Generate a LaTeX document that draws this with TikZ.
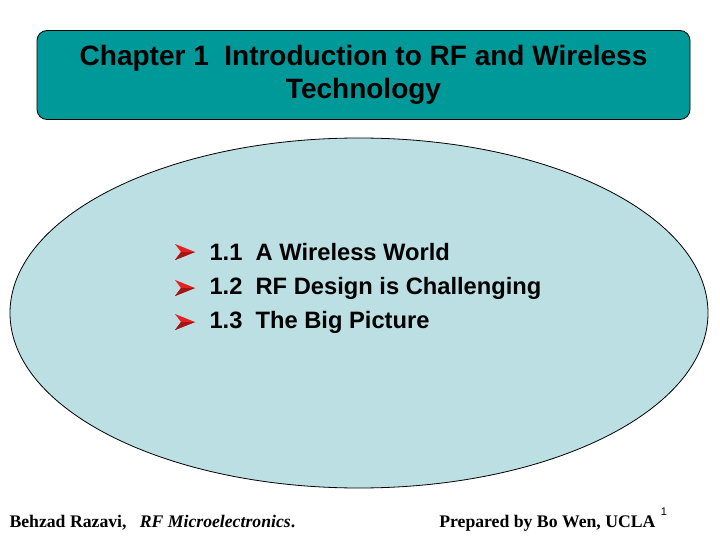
\documentclass[tikz,border=0pt]{standalone}
\usepackage{fontspec}
\usetikzlibrary{shapes.geometric}
\setmainfont{Liberation Sans}
\newfontfamily\tms{Liberation Serif}
\begin{document}
\begin{tikzpicture}[x=1pt,y=-1pt,
  bul/.style={font=\bfseries\fontsize{23.7}{28}\selectfont,anchor=west},
  foot/.style={font=\tms\bfseries\fontsize{17.7}{20}\selectfont,anchor=west}]
\definecolor{teal1}{HTML}{009999}
\definecolor{ell}{HTML}{BBDFE2}
\definecolor{arr}{HTML}{E82020}
\useasboundingbox (0,0) rectangle (720,540);
\fill[white] (0,0) rectangle (720,540);
\node[draw=black,fill=teal1,rounded corners=10pt,minimum width=653pt,minimum height=89pt,line width=0.8pt,align=center,
  font=\bfseries\fontsize{28}{33}\selectfont] (title) at (363.5,75) {Chapter 1\ \ Introduction to RF and Wireless\\Technology};
\node[draw=black,fill=ell,ellipse,minimum width=698pt,minimum height=350pt,inner sep=0pt,line width=0.8pt] (e) at (359,313) {};
\foreach \y/\t [count=\i] in {252/{1.1\ \ A Wireless World},288/{1.2\ \ RF Design is Challenging},322/{1.3\ \ The Big Picture}}{
  \fill[arr] (175,\y-8) -- (195,\y) -- (175,\y+8) -- (181,\y) -- cycle;
  \fill[arr!70!black] (175,\y+8) -- (195,\y) -- (181,\y) -- cycle;
  \node[bul] (b\i) at (206,\y) {\t};
}
\node[foot] (f1) at (6,523) {Behzad Razavi,\ \ \ \textit{RF Microelectronics}.};
\node[foot,anchor=east] (f2) at (659,523) {Prepared by Bo Wen, UCLA};
\node[font=\fontsize{11}{12}\selectfont] (pg) at (664,512) {1};
\end{tikzpicture}
\end{document}
